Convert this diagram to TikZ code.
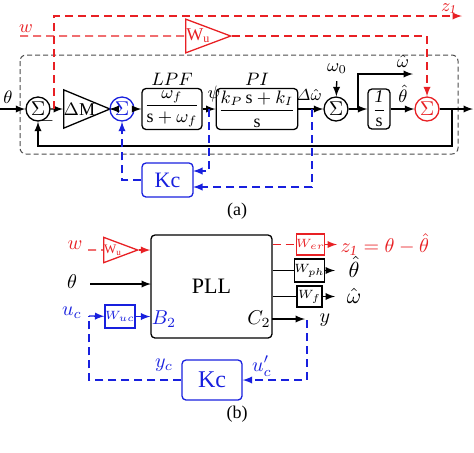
\documentclass[tikz,border=0pt]{standalone}
\usepackage{amsmath}
\usepackage{fontspec}
\setmainfont{Liberation Serif}
\usepackage{xcolor}
\usepackage{tikz}
\usetikzlibrary{shapes.geometric,calc}
\definecolor{pllred}{RGB}{232,32,36}
\definecolor{pllblue}{RGB}{24,32,222}

\begin{document}
\begin{tikzpicture}[x=0.5pt,y=-0.5pt,>=latex,line width=0.65pt,
	font=\fontsize{9}{10}\selectfont,
	sumnode/.style={draw,circle,inner sep=0pt,minimum size=12pt,font=\fontsize{10}{10}\selectfont},
	blockbox/.style={draw,rounded corners=2pt,inner sep=1pt},
	gain/.style={draw,isosceles triangle,isosceles triangle stretches,inner sep=0pt,anchor=west},
	wbox/.style={draw,inner sep=0pt,font=\fontsize{6.5}{7}\selectfont},
	reddash/.style={pllred,dash pattern=on 4pt off 2.5pt},
	bluedash/.style={pllblue,dash pattern=on 4pt off 2.5pt}]
	\useasboundingbox (0,0) rectangle (474,452);
	% (a) block diagram
	\draw[black!70,line width=0.5pt,dash pattern=on 2.5pt off 1.5pt,rounded corners=3pt] (20,55) rectangle (458,154);
	\node[sumnode] (s1) at (38,109) {$\Sigma$};
	\node[gain,minimum width=13.5pt,minimum height=20pt] (dm) at (63,109) {$\Delta$M};
	\node[sumnode,pllblue] (s2) at (122,109) {$\Sigma$};
	\node[blockbox,minimum width=30pt,minimum height=20.5pt] (lpf) at (172,109) {$\dfrac{\omega_f}{\mathrm{s}+\omega_f}$};
	\node[above,inner sep=1pt] (lpflab) at (lpf.north) {$LPF$};
	\node[blockbox,minimum width=33pt,minimum height=20.5pt] (pi) at (257,109) {$\dfrac{k_P\,\mathrm{s}+k_I}{\mathrm{s}}$};
	\node[above,inner sep=1pt] (pilab) at (pi.north) {$PI$};
	\node[sumnode] (s3) at (336,109) {$\Sigma$};
	\node[blockbox,minimum width=11pt,minimum height=20pt] (int) at (379,109) {$\dfrac{\mathit{1}}{\mathrm{s}}$};
	\node[sumnode,pllred] (s4) at (427,109) {$\Sigma$};
	\coordinate (in) at (0,109);
	\coordinate (out) at (473,109);
	\coordinate (fb) at (452,109);
	\coordinate (br) at (358,109);
	\coordinate (wout) at (413,74);
	\coordinate (psi) at (209,109);
	\coordinate (dw) at (312,109);
	\coordinate (zj) at (54,109);
	\coordinate (zend) at (462,16);
	\coordinate (wstart) at (20,36);
	\node (thin) at (8,97) {$\theta$};
	\node (minus) at (47,121) {$-$};
	\node (psilab) at (214,94) {$\psi$};
	\node[inner sep=1pt,font=\fontsize{8.5}{9}\selectfont] (dwlab) at (309,95) {$\varDelta\hat{\omega}$};
	\node[inner sep=1pt] (thlab) at (403,94) {$\hat{\theta}$};
	\node[inner sep=1pt] (whlab) at (403,61) {$\hat{\omega}$};
	\node (w0) at (337,69) {$\omega_0$};
	\draw[->] (in) -- (s1);
	\draw[->] (s1) -- (dm);
	\draw[->] (dm.apex) -- (s2);
	\draw[->] (s2) -- (lpf);
	\draw[->] (lpf) -- (pi);
	\draw[->] (pi) -- (s3);
	\draw[->] (s3) -- (int);
	\draw[->] (int) -- (s4);
	\draw[->] (s4) -- (out);
	\draw[->] (fb) -- (452,146) -| (s1.south);
	\draw[->] (w0) -- (s3);
	\draw[->] (br) |- (wout);
	% weighting and control paths
	\node[gain,pllred,minimum width=14.5pt,minimum height=22.5pt] (wua) at (185,36) {$\mathrm{W_u}$};
	\node[pllred] (wlab) at (26,29) {$w$};
	\node[pllred] (z1lab) at (449,9) {$z_{\mathit{1}}$};
	\draw[reddash] (wstart) -- (wua);
	\draw[reddash,->] (wua.apex) -| (s4);
	\draw[reddash,->] (zj) |- (zend);
	\node[blockbox,pllblue,minimum width=25.5pt,minimum height=17pt,font=\fontsize{11}{11}\selectfont] (kca) at (167.5,180) {Kc};
	\draw[bluedash,->] (psi) |- (193,171);
	\draw[bluedash,->] (dw) |- (193,187);
	\draw[bluedash,->] (kca.west) -| (s2.south);
	\node (capa) at (237,211) {(a)};
	% (b) generalized plant
	\node[blockbox,minimum width=60.5pt,minimum height=51.5pt,font=\fontsize{11}{11}\selectfont] (pll) at (211.5,286.5) {PLL};
	\node[gain,pllred,minimum width=11pt,minimum height=17pt,font=\fontsize{6.5}{7}\selectfont] (wub) at (103,250) {$\mathrm{W_u}$};
	\node[pllred,font=\fontsize{10}{10}\selectfont] (wlabb) at (75,245) {$w$};
	\draw[reddash] (88,250) -- (wub);
	\draw[pllred,->] (wub.apex) -- (wub.apex -| pll.west);
	\node[font=\fontsize{10}{10}\selectfont] (thb) at (72,282) {$\theta$};
	\draw[->] (90,284) -- (151,284);
	\node[pllblue,font=\fontsize{10}{10}\selectfont] (uc) at (72,313) {$u_c$};
	\coordinate (ucin) at (89,316);
	\node[wbox,pllblue,minimum width=13pt,minimum height=11.5pt] (wuc) at (120,316.5) {$W_{uc}$};
	\draw[bluedash,->] (ucin) -- (wuc);
	\draw[pllblue,->] (wuc) -- (wuc -| pll.west);
	\node[pllblue,font=\fontsize{10}{10}\selectfont] (b2) at (164,319) {$B_2$};
	\node[blockbox,pllblue,minimum width=30pt,minimum height=20pt,font=\fontsize{12}{12}\selectfont] (kcb) at (212,380) {Kc};
	\draw[bluedash] (kcb.west) -| (ucin);
	\node[pllblue,font=\fontsize{10}{10}\selectfont] (yc) at (164,365) {$y_c$};
	\coordinate (yout) at (307,320);
	\draw[bluedash,->] (yout) |- (kcb.east);
	\node[pllblue,font=\fontsize{10}{10}\selectfont] (ucp) at (262,366) {$u'_c$};
	\node[font=\fontsize{10}{10}\selectfont] (c2) at (259,319) {$C_2$};
	\draw[->] (272,319) -- (305,319);
	\node[font=\fontsize{10}{10}\selectfont] (ylab) at (325,320) {$y$};
	\node[wbox,pllred,minimum width=12.5pt,minimum height=10.5pt] (wer) at (310.5,244.5) {$W_{er}$};
	\node[wbox,minimum width=12.5pt,minimum height=11.5pt] (wph) at (309.5,270.5) {$W_{ph}$};
	\node[wbox,minimum width=12.5pt,minimum height=10.5pt] (wf) at (309.5,296.5) {$W_f$};
	\draw[reddash] (wer -| pll.east) -- (wer);
	\draw[pllred,->] (wer) -- (337,244.5);
	\node[pllred,anchor=west,inner sep=1pt,font=\fontsize{10}{10}\selectfont] (zlab) at (338,244.5) {$z_{\mathit{1}}=\theta-\hat{\theta}$};
	\draw (wph -| pll.east) -- (wph);
	\draw[->] (wph) -- (335,270.5);
	\node[font=\fontsize{11}{11}\selectfont] (thhb) at (354,267) {$\hat{\theta}$};
	\draw (wf -| pll.east) -- (wf);
	\draw[->] (wf) -- (335,296.5);
	\node[font=\fontsize{11}{11}\selectfont] (whb) at (354,296) {$\hat{\omega}$};
	\node (capb) at (237,414) {(b)};
\end{tikzpicture}
\end{document}
